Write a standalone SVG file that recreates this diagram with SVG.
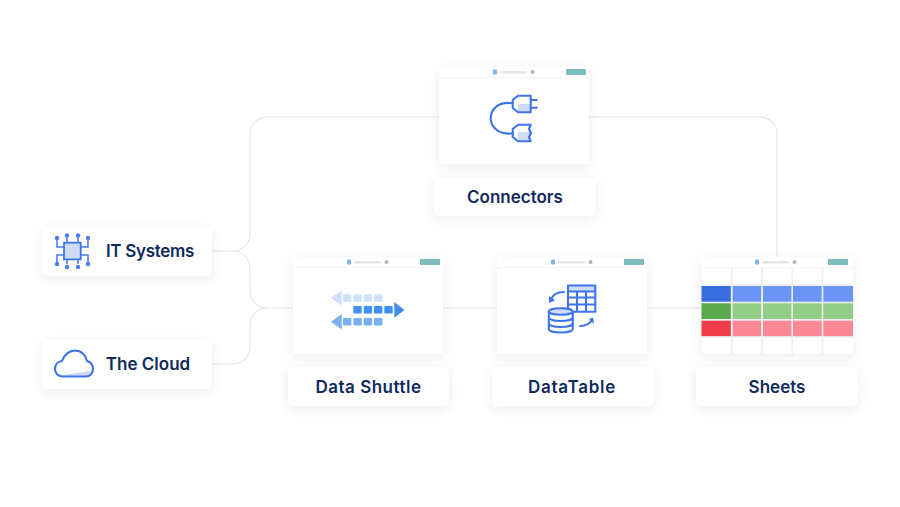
<svg xmlns="http://www.w3.org/2000/svg" width="900" height="507" viewBox="0 0 900 507">
<defs>
<filter id="sh" x="-30%" y="-40%" width="160%" height="190%"><feDropShadow dx="0" dy="3" stdDeviation="6" flood-color="#000" flood-opacity="0.07"/></filter>
<g id="bar">
<rect x="0" y="0" width="150" height="10" fill="#fff"/>
<rect x="0" y="10" width="150" height="1" fill="#f4f4f4"/>
<rect x="54" y="2.500" width="4" height="5" rx="1" fill="#7db6ea"/>
<rect x="61" y="4" width="27" height="2.400" rx="1.200" fill="#e4e6e8"/>
<circle cx="93.500" cy="5" r="2" fill="#b4b6b8"/>
<rect x="127" y="2" width="20" height="6" rx="1" fill="#7fbcbd"/>
</g>
</defs>
<style>
text{font-family:Inter,"Noto Sans",sans-serif;font-weight:600;font-size:17px;fill:#0f2a5c;text-anchor:middle}
.card{fill:#fff;filter:url(#sh)}
.ic{fill:none;stroke:#3e74ea;stroke-width:2.100;stroke-linejoin:round;stroke-linecap:round}
.lt{fill:#cfdcf8}
</style>
<rect width="900" height="507" fill="#fff"/>
<g id="connectors" fill="none" stroke="#e4e4e2" stroke-width="1.100">
<path d="M212 251H233A17 17 0 0 0 250 234V134A17 17 0 0 1 267 117H439"/>
<path d="M589 117H760A17 17 0 0 1 777 134V257"/>
<path d="M233 251A17 17 0 0 1 250 268V291A17 17 0 0 0 267 308H293"/>
<path d="M212 364H233A17 17 0 0 0 250 347V325A17 17 0 0 1 267 308"/>
<path d="M443 308H497M647 308H701"/>
</g>
<g id="it-systems">
<rect class="card" x="42" y="227" width="170" height="49" rx="7"/>
<rect class="lt" x="64" y="242.700" width="16.700" height="16.700" stroke="#3e74ea" stroke-width="1.800"/>
<g fill="none" stroke="#4a7df0" stroke-width="1.600">
<path d="M57 238V247H64M67 236V243M78 236V243M88 238V247H81M57 264V255H64M67 264V259M78 264V259M88 264V255H81"/>
</g>
<g fill="#4a7df0"><circle cx="57" cy="238" r="2.200"/><circle cx="67" cy="235.500" r="2.200"/><circle cx="78" cy="235.500" r="2.200"/><circle cx="88" cy="238" r="2.200"/><circle cx="57" cy="264" r="2.200"/><circle cx="67" cy="267" r="2.200"/><circle cx="78" cy="267" r="2.200"/><circle cx="88" cy="264" r="2.200"/></g>
<text x="150" y="257" letter-spacing="-0.300">IT Systems</text>
</g>
<g id="the-cloud">
<rect class="card" x="42" y="340" width="170" height="49" rx="7"/>
<path d="M60 376H86C90 376 92.500 373.500 92.500 370C88 372 72 373 60 376Z" class="lt"/>
<path class="ic" d="M63 376.500C58 376.500 55 373 55 369C55 364.500 58 361.500 62 361C64 354.500 69.500 350.500 75 350.500C81 350.500 86 355 87 361C90.500 362 93 365 93 369C93 373.500 90 376.500 86 376.500Z"/>
<text x="148" y="370">The Cloud</text>
</g>
<g id="connectors-node">
<rect class="card" x="439" y="67" width="150" height="97" rx="2"/>
<use href="#bar" x="439" y="67"/>
<path class="lt" d="M518 104H530.500V112H518ZM518 132H530.500V141H518Z"/>
<path class="ic" d="M512.700 103.300C500 101 490.700 108 490.700 118.300C490.700 128 500 135 512.700 133.300"/>
<path class="ic" d="M512.700 100L518 95.800H530.700V112.300H518L512.700 108ZM530.700 100H536.700M530.700 107.700H536.700"/>
<path class="ic" d="M512.700 129L518 124.800H530.700L529 129L531 133L529 137L530.700 141.300H518L512.700 137Z"/>
<rect class="card" x="434" y="178" width="162" height="38" rx="6"/>
<text x="515" y="203">Connectors</text>
</g>
<g id="data-shuttle">
<rect class="card" x="293" y="257" width="150" height="97" rx="2"/>
<use href="#bar" x="293" y="257"/>
<g fill="#cfe2fb"><path d="M331 298L341.700 290V305.500Z"/><rect x="343" y="294.300" width="8.400" height="7.500" rx="1"/><rect x="353.400" y="294.300" width="8.400" height="7.500" rx="1"/><rect x="363.700" y="294.300" width="8.400" height="7.500" rx="1"/><rect x="374" y="294.300" width="8.400" height="7.500" rx="1"/></g>
<g fill="#3d8ff0"><rect x="353.300" y="306" width="8.400" height="7.500" rx="1"/><rect x="363.700" y="306" width="8.400" height="7.500" rx="1"/><rect x="374" y="306" width="8.400" height="7.500" rx="1"/><rect x="384.300" y="306" width="8.400" height="7.500" rx="1"/><path d="M404.500 310L394.300 302V317.700Z"/></g>
<g fill="#79b1f0"><path d="M331 321.700L341.700 314V329.500Z"/><rect x="343" y="318" width="8.400" height="7.500" rx="1"/><rect x="353.400" y="318" width="8.400" height="7.500" rx="1"/><rect x="363.700" y="318" width="8.400" height="7.500" rx="1"/><rect x="374" y="318" width="8.400" height="7.500" rx="1"/></g>
<rect class="card" x="288" y="367" width="161" height="39" rx="6"/>
<text x="368.500" y="393" letter-spacing="0.500">Data Shuttle</text>
</g>
<g id="datatable">
<rect class="card" x="497" y="257" width="150" height="97" rx="2"/>
<use href="#bar" x="497" y="257"/>
<rect x="568" y="286" width="27" height="5.500" fill="#cfdcf8"/>
<path class="ic" d="M568 285.500H595.300V311.800H574M568 285.500V308M568 291.500H595.300M568 297.500H595.300M568 304.500H595.300M577 291.500V311.800M586 291.500V311.800"/>
<ellipse cx="560.800" cy="311.500" rx="12" ry="3.300" fill="#cfdcf8" stroke="#3e74ea" stroke-width="2"/>
<path class="ic" d="M548.800 311.500V329C548.800 331 554 332.500 560.800 332.500C567.500 332.500 572.800 331 572.800 329V311.500M548.800 317.500C549 319.500 554 321 560.800 321C567.500 321 572.500 319.500 572.800 317.500M548.800 323.500C549 325.500 554 327 560.800 327C567.500 327 572.500 325.500 572.800 323.500"/>
<path class="ic" d="M564 292C557 292 552.500 295 551 300"/>
<path d="M549 296L555 300.500L549 303Z" fill="#3e74ea"/>
<path class="ic" d="M580 326C586 326 590 323.500 592 320"/>
<path d="M589 319L593 317.500L594 324Z" fill="#3e74ea"/>
<rect class="card" x="492" y="367" width="162" height="39" rx="6"/>
<text x="572" y="393" letter-spacing="0.700">DataTable</text>
</g>
<g id="sheets">
<rect class="card" x="701" y="257" width="152" height="97" rx="2"/>
<rect x="701" y="257" width="152" height="97" fill="#eeeeee"/>
<use href="#bar" x="701" y="257"/>
<rect x="851" y="257" width="2" height="10" fill="#fff"/>
<g fill="#fff"><rect x="701.500" y="267.800" width="29.300" height="16.500"/><rect x="732.700" y="267.800" width="28.400" height="16.500"/><rect x="763" y="267.800" width="28.400" height="16.500"/><rect x="793" y="267.800" width="28.700" height="16.500"/><rect x="823.300" y="267.800" width="29.700" height="16.500"/></g>
<g fill="#6b95f5"><rect x="701.500" y="286" width="29.300" height="15.700" fill="#3a6fe0"/><rect x="732.700" y="286" width="28.400" height="15.700"/><rect x="763" y="286" width="28.400" height="15.700"/><rect x="793" y="286" width="28.700" height="15.700"/><rect x="823.300" y="286" width="29.700" height="15.700"/></g>
<g fill="#93cc86"><rect x="701.500" y="303.300" width="29.300" height="15.700" fill="#5aa94c"/><rect x="732.700" y="303.300" width="28.400" height="15.700"/><rect x="763" y="303.300" width="28.400" height="15.700"/><rect x="793" y="303.300" width="28.700" height="15.700"/><rect x="823.300" y="303.300" width="29.700" height="15.700"/></g>
<g fill="#fb8894"><rect x="701.500" y="320.700" width="29.300" height="15.400" fill="#ec3d49"/><rect x="732.700" y="320.700" width="28.400" height="15.400"/><rect x="763" y="320.700" width="28.400" height="15.400"/><rect x="793" y="320.700" width="28.700" height="15.400"/><rect x="823.300" y="320.700" width="29.700" height="15.400"/></g>
<g fill="#fff"><rect x="701.500" y="337.700" width="29.300" height="16"/><rect x="732.700" y="337.700" width="28.400" height="16"/><rect x="763" y="337.700" width="28.400" height="16"/><rect x="793" y="337.700" width="28.700" height="16"/><rect x="823.300" y="337.700" width="29.700" height="16"/></g>
<rect class="card" x="696" y="367" width="162" height="39" rx="6"/>
<text x="777" y="393">Sheets</text>
</g>
</svg>
